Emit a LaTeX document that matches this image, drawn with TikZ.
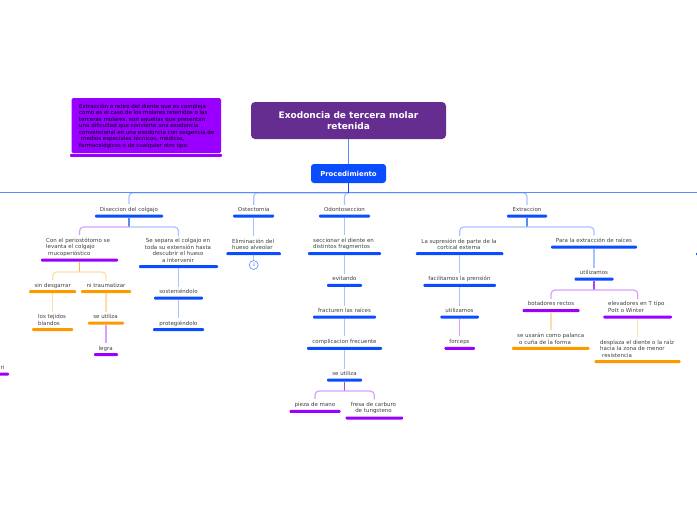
\documentclass[tikz,border=0pt]{standalone}
\usepackage{fontspec}
\setmainfont{DejaVu Sans}
\definecolor{cblue}{HTML}{0A4DFF}
\definecolor{cpurple}{HTML}{9900FF}
\definecolor{corange}{HTML}{FF9900}
\definecolor{ctitle}{HTML}{662D91}
\definecolor{lblue}{HTML}{A9C1FF}
\definecolor{mblue}{HTML}{5C88FF}
\definecolor{lpurple}{HTML}{D8A0FF}
\definecolor{lorange}{HTML}{FFDDAA}
\definecolor{ctext}{HTML}{404040}
\newcommand{\ind}{\hspace*{2pt}}
\tikzset{
  lbl/.style={inner sep=0pt,yshift=-0.6pt,text=ctext,font=\fontsize{5.5}{6.5}\selectfont,align=center},
  lbll/.style={lbl,align=left,anchor=west},
  barbase/.style={rectangle,inner sep=0pt,minimum height=3pt,rounded corners=1pt,draw=none},
  bb/.style={barbase,fill=cblue},
  bp/.style={barbase,fill=cpurple},
  bo/.style={barbase,fill=corange},
  cb/.style={draw=lblue,line width=1.2pt,shorten >=2.5pt},
  cp/.style={draw=lpurple,line width=1.2pt,shorten >=2.5pt},
  co/.style={draw=lorange,line width=1.2pt,shorten >=2.5pt},
  rc/.style={rounded corners=4pt},
  main/.style={draw=mblue,line width=1.4pt}
}
\begin{document}
\begin{tikzpicture}[x=1pt,y=-1pt]
\useasboundingbox (0,0) rectangle (697,520);
\clip (0,0) rectangle (697,520);
% central nodes
\node[rectangle,fill=cpurple,rounded corners=1.5pt,inner sep=0pt,minimum width=149.5pt,minimum height=55pt] (desc) at (146.25,125.5) {};
\node[inner sep=0pt,anchor=west,align=left,text=black,font=\fontsize{5.5}{6.5}\selectfont] (desctext) at (79,126.2) {Extracción o retiro del diente que es compleja\\como es el caso de los molares retenidos o las\\terceras molares, son aquellas que presentan\\una dificultad que convierte una exodoncia\\convencional en una exodoncia con exigencia de\\\ind medios especiales técnicos, médicos,\\farmacológicos o de cualquier otro tipo.};
\node[bp,minimum width=152pt] (descbar) at (146,155.3) {};
\node[rectangle,fill=ctitle,rounded corners=4pt,inner sep=0pt,minimum width=195pt,minimum height=37pt,text=white,align=center,font=\fontsize{9}{11}\selectfont\bfseries] (title) at (348.5,120.5) {Exodoncia de tercera molar\\retenida};
\node[rectangle,fill=cblue,rounded corners=3pt,inner sep=0pt,minimum width=75pt,minimum height=19pt,text=white,font=\fontsize{6.9}{8}\selectfont\bfseries] (proc) at (348.5,173.5) {Procedimiento};
\coordinate (hub) at (348.5,192.7);
\coordinate (hl) at (0,192.7);
\coordinate (hr) at (697,192.7);
% level 1
\node[lbl] (t1) at (129,209) {Diseccion del colgajo};
\node[bb,minimum width=68pt] (b1) at (129,216) {};
\node[lbl] (t2) at (253.7,209) {Ostectomia};
\node[bb,minimum width=41pt] (b2) at (253.7,216) {};
\node[lbl] (t3) at (344.5,209) {Odontoseccion};
\node[bb,minimum width=51pt] (b3) at (344.5,216) {};
\node[lbl] (t4) at (527,209) {Extraccion};
\node[bb,minimum width=40pt] (b4) at (527,216) {};
% left branch
\node[lbll] (t11) at (46,246.5) {Con el periostótomo se\\levanta el colgajo\\\ind mucoperióstico};
\node[bp,minimum width=77pt] (b11) at (79.5,260) {};
\node[lbl] (t12) at (178,250) {Se separa el colgajo en\\toda su extensión hasta\\descubrir el hueso\\a intervenir};
\node[bb,minimum width=79pt] (b12) at (178.5,266.7) {};
\node[lbl] (t111) at (52.7,285) {sin desgarrar};
\node[bo,minimum width=47pt] (b111) at (52.7,291.7) {};
\node[lbl] (t112) at (106,285) {ni traumatizar};
\node[bo,minimum width=50pt] (b112) at (106,291.7) {};
\node[lbll] (t1111) at (38,319.5) {los tejidos\\blandos};
\node[bo,minimum width=41pt] (b1111) at (52.7,329.5) {};
\node[lbl] (t1121) at (105.5,316) {se utiliza};
\node[bo,minimum width=36pt] (b1121) at (106,323) {};
\node[lbl] (t11211) at (105.7,348) {legra};
\node[bp,minimum width=24pt] (b11211) at (106,354.7) {};
\node[lbl] (t121) at (178.5,291) {sosteniéndolo};
\node[bb,minimum width=49pt] (b121) at (178.5,298) {};
\node[lbl] (t122) at (178.5,323) {protegiéndolo};
\node[bb,minimum width=51pt] (b122) at (178.5,329.7) {};
\node[lbl,anchor=east] (tcut) at (4.5,367) {ri};
\node[bp,minimum width=18pt] (bcut) at (0,374) {};
% ostectomia
\node[lbll] (t21) at (232,243.5) {Eliminación del\\hueso alveolar};
\node[bb,minimum width=54.5pt] (b21) at (253.7,253.7) {};
\node[circle,draw=mblue,line width=.6pt,fill=white,minimum size=9pt,inner sep=0pt,text=mblue,font=\fontsize{4.5}{5}\selectfont] (n21) at (253.7,265) {3};
% odontoseccion
\node[lbll] (t31) at (313,243.5) {seccionar el diente en\\distintos fragmentos};
\node[bb,minimum width=73pt] (b31) at (344.5,253.7) {};
\node[lbl] (t32) at (344.5,278) {evitando};
\node[bb,minimum width=35pt] (b32) at (344.5,285.4) {};
\node[lbl] (t33) at (344.5,310) {fracturen las raíces};
\node[bb,minimum width=63pt] (b33) at (344.5,317) {};
\node[lbl] (t34) at (344.5,341) {complicacion frecuente};
\node[bb,minimum width=75pt] (b34) at (344.5,348.3) {};
\node[lbl] (t35) at (344.5,373) {se utiliza};
\node[bb,minimum width=35pt] (b35) at (344.5,380) {};
\node[lbl] (t351) at (315,404) {pieza de mano};
\node[bp,minimum width=51pt] (b351) at (315,411.3) {};
\node[lbl] (t352) at (373.5,407.5) {fresa de carburo\\de tungsteno};
\node[bp,minimum width=57.5pt] (b352) at (374.3,418) {};
% extraccion
\node[lbl] (t41) at (459,243.5) {La supresión de parte de la\\cortical externa};
\node[bb,minimum width=87.5pt] (b41) at (459.7,253.7) {};
\node[lbl] (t42) at (459.5,278) {facilitamos la prensión};
\node[bb,minimum width=72.5pt] (b42) at (459.7,285.4) {};
\node[lbl] (t43) at (459.5,310) {utilizamos};
\node[bb,minimum width=38.5pt] (b43) at (459.7,317) {};
\node[lbl] (t44) at (459.5,341) {forceps};
\node[bp,minimum width=30.5pt] (b44) at (459.7,348.3) {};
\node[lbl] (t45) at (594,240) {Para la extracción de raíces};
\node[bb,minimum width=86pt] (b45) at (594,247) {};
\node[lbl] (t46) at (594,272) {utilizamos};
\node[bb,minimum width=39pt] (b46) at (594,279) {};
\node[lbl] (t47) at (551,303) {botadores rectos};
\node[bp,minimum width=57pt] (b47) at (551,310.5) {};
\node[lbll] (t48) at (608,306.5) {elevadores en T tipo\\Pott o Winter};
\node[bp,minimum width=68.5pt] (b48) at (637.7,317) {};
\node[lbll] (t471) at (517,338) {se usarán como palanca\\\ind o cuña de la forma};
\node[bo,minimum width=77.5pt] (b471) at (550.7,348.3) {};
\node[lbll] (t481) at (600,348) {desplaza el diente o la raíz\\hacia la zona de menor\\\ind resistencia};
\node[bo,minimum width=86pt] (b481) at (637.5,361.5) {};
\node[bb,minimum width=2pt] (bcutr) at (697,254) {};
% junctions
\coordinate (j1) at (129,227);
\coordinate (j11) at (79.5,272);
\coordinate (j35) at (344.5,391);
\coordinate (j4) at (527,227);
\coordinate (j46) at (594,290);
% connectors
\draw[mblue,line width=1.2pt] (title.south) -- (proc.north);
\foreach \t/\b in {t1/b1,t2/b2,t3/b3,t4/b4}{
  \draw[cb,rc] (hub) -| (\b |- \t.north);
}
\draw[main] (hl) -- (hr);
\draw[cblue,line width=1.5pt] (proc.south) -- (hub);
\draw[mblue,line width=1.2pt] (b1.south) -- (j1);
\draw[cp,rc] (j1) -| (b11 |- t11.north);
\draw[cb,rc] (j1) -| (b12 |- t12.north);
\draw[corange!70,line width=1.2pt] (b11.south) -- (j11);
\draw[co,rc] (j11) -| (b111 |- t111.north);
\draw[co,rc] (j11) -| (b112 |- t112.north);
\draw[co] (b111.south) -- (b111 |- t1111.north);
\draw[co] (b112.south) -- (b112 |- t1121.north);
\draw[cp] (b1121.south) -- (b1121 |- t11211.north);
\draw[cb] (b12.south) -- (b12 |- t121.north);
\draw[cb] (b121.south) -- (b121 |- t122.north);
\draw[cb] (b2.south) -- (b2 |- t21.north);
\draw[lblue,line width=1.2pt] (b21.south) -- (n21.north);
\draw[cb] (b3.south) -- (b3 |- t31.north);
\draw[cb] (b31.south) -- (b31 |- t32.north);
\draw[cb] (b32.south) -- (b32 |- t33.north);
\draw[cb] (b33.south) -- (b33 |- t34.north);
\draw[cb] (b34.south) -- (b34 |- t35.north);
\draw[cpurple!75,line width=1.2pt] (b35.south) -- (j35);
\draw[cp,rc] (j35) -| (b351 |- t351.north);
\draw[cp,rc] (j35) -| (b352 |- t352.north);
\draw[mblue,line width=1.4pt] (b4.south) -- (j4);
\draw[cb,rc] (j4) -| (b41 |- t41.north);
\draw[cb,rc] (j4) -| (b45 |- t45.north);
\draw[cb] (b41.south) -- (b41 |- t42.north);
\draw[cb] (b42.south) -- (b42 |- t43.north);
\draw[cp] (b43.south) -- (b43 |- t44.north);
\draw[cb] (b45.south) -- (b45 |- t46.north);
\draw[cpurple!75,line width=1.2pt] (b46.south) -- (j46);
\draw[cp,rc] (j46) -| (b47 |- t47.north);
\draw[cp,rc] (j46) -| (b48 |- t48.north);
\draw[co] (b47.south) -- (b47 |- t471.north);
\draw[co] (b48.south) -- (b48 |- t481.north);
\end{tikzpicture}
\end{document}
